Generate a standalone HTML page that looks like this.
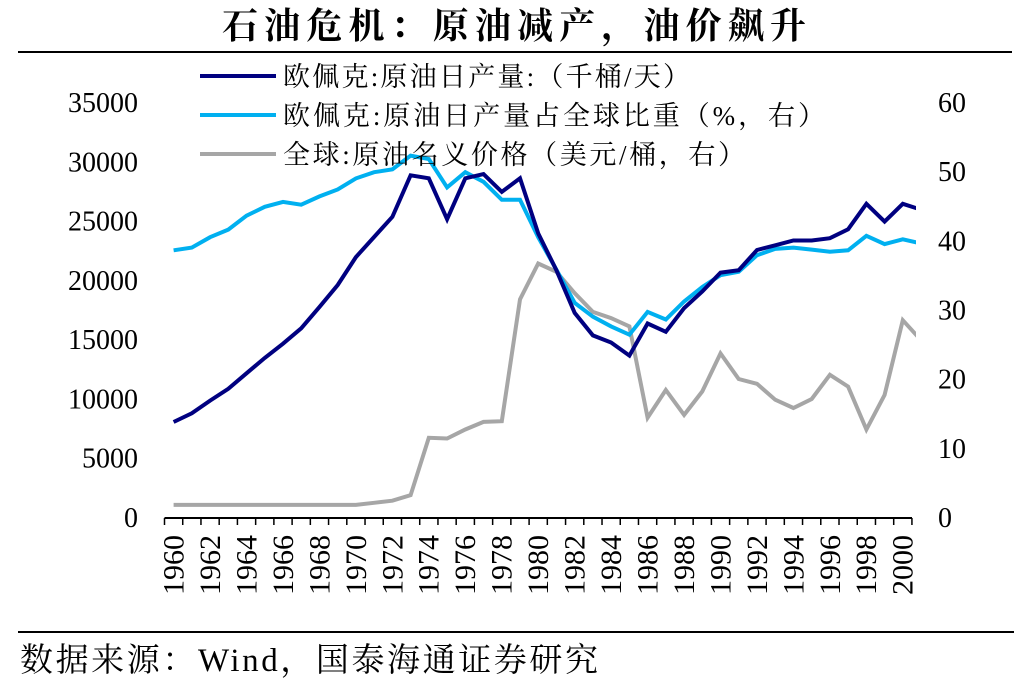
<!DOCTYPE html>
<html><head><meta charset="utf-8">
<style>
body{margin:0;background:#fff;width:1028px;height:685px;overflow:hidden}
svg text{font-family:"Liberation Serif","Noto Serif CJK SC",serif}
</style></head><body>
<svg id="chart" width="1028" height="685" xmlns="http://www.w3.org/2000/svg">
<text x="222" y="38" font-size="36" font-weight="bold" textLength="584" lengthAdjust="spacing" style="font-family:'Noto Serif CJK SC',serif">石油危机：原油减产，油价飙升</text>
<line x1="18" y1="52" x2="1012" y2="52" stroke="#000" stroke-width="2"/>
<line x1="18" y1="632" x2="1014" y2="632" stroke="#000" stroke-width="2"/>
<text x="20" y="671" font-size="33" textLength="578" lengthAdjust="spacing">数据来源：Wind，国泰海通证券研究</text>
<g id="axes"></g>
<defs><clipPath id="plotclip"><rect x="160" y="60" width="756" height="470"/></clipPath></defs>
<g id="series" clip-path="url(#plotclip)"></g>
<g id="legend"></g>
</svg>
<script>
const years=[];for(let y=1960;y<=2001;y++)years.push(y);
const production=[8100,8830,9900,10900,12200,13500,14700,16000,17800,19650,22000,23700,25400,28900,28650,25200,28650,29000,27500,28650,24000,20900,17300,15400,14800,13700,16400,15700,17700,19100,20700,20900,22600,23000,23400,23400,23600,24350,26500,25000,26500,26000];
const share=[38.7,39.1,40.6,41.7,43.7,45.0,45.7,45.3,46.5,47.5,49.1,50.0,50.4,52.4,51.9,47.8,50.0,48.6,46.0,46.0,40.6,35.9,31.1,29.1,27.7,26.5,29.8,28.7,31.3,33.4,35.1,35.6,38.0,38.9,39.1,38.8,38.5,38.7,40.8,39.6,40.3,39.7];
const price=[1.9,1.9,1.9,1.9,1.9,1.9,1.9,1.9,1.9,1.9,1.9,2.2,2.5,3.3,11.6,11.5,12.8,13.9,14.0,31.6,36.8,35.6,32.5,29.8,28.9,27.7,14.5,18.5,14.9,18.3,23.8,20.1,19.4,17.1,15.9,17.2,20.7,19.0,12.8,17.8,28.6,25.7];
const leftTicks=[0,5000,10000,15000,20000,25000,30000,35000];
const rightTicks=[0,10,20,30,40,50,60];
const tickYears=[1960,1962,1964,1966,1968,1970,1972,1974,1976,1978,1980,1982,1984,1986,1988,1990,1992,1994,1996,1998,2000];
const NS="http://www.w3.org/2000/svg";
const X0=164.5,BW=18.23,Y0=518;
function xPos(i){return X0+BW*(i+0.5);}
function yL(v){return Y0-v/35000*415;}
function yR(v){return Y0-v/60*415;}
function mk(tag,attrs,parent){const e=document.createElementNS(NS,tag);for(const k in attrs)e.setAttribute(k,attrs[k]);parent.appendChild(e);return e;}
const axes=document.getElementById('axes');
const base=mk('line',{x1:X0,y1:Y0,x2:912,y2:Y0,stroke:'#000','stroke-width':2},axes);


for(let i=0;i<=41;i++){
  const x=X0+BW*i;
  const t=mk('line',{x1:x,y1:Y0,x2:x,y2:Y0+7,stroke:'#000','stroke-width':1.5},axes);
  
  
}
tickYears.forEach(yr=>{
  const i=yr-1960;const x=X0+BW*i+9;
  const t=mk('text',{x:0,y:0,'font-size':30,'text-anchor':'end',transform:`translate(${x+10},535) rotate(-90)`},axes);
  t.textContent=yr;
  
  
});
leftTicks.forEach(v=>{
  const t=mk('text',{x:138,y:yL(v)+9,'font-size':28,'text-anchor':'end'},axes);
  t.textContent=v;
  
  
});
rightTicks.forEach(v=>{
  const t=mk('text',{x:938,y:yR(v)+9,'font-size':28},axes);
  t.textContent=v;
  
  
});
const ser=document.getElementById('series');
function line(data,fy,color,name){
  const pts=data.map((v,i)=>xPos(i).toFixed(1)+','+fy(v).toFixed(1)).join(' ');
  const p=mk('polyline',{points:pts,fill:'none',stroke:color,'stroke-width':4,'stroke-linejoin':'miter'},ser);
  
  
}
line(price,yR,'#a6a6a6','price-line');
line(share,yR,'#00b0f0','share-line');
line(production,yL,'#000080','production-line');
const leg=document.getElementById('legend');
[['欧佩克:原油日产量:（千桶/天）','#000080',76,407],['欧佩克:原油日产量占全球比重（%，右）','#00b0f0',115,542],['全球:原油名义价格（美元/桶，右）','#a6a6a6',154,462]].forEach(([txt,c,y,w])=>{
  const g=mk('g',{},leg);
  
  
  mk('line',{x1:200,y1:y,x2:276,y2:y,stroke:c,'stroke-width':4},g);
  const t=mk('text',{x:283,y:y+10,'font-size':27,textLength:w,lengthAdjust:'spacing'},g);
  t.textContent=txt;
});
</script>
</body></html>
